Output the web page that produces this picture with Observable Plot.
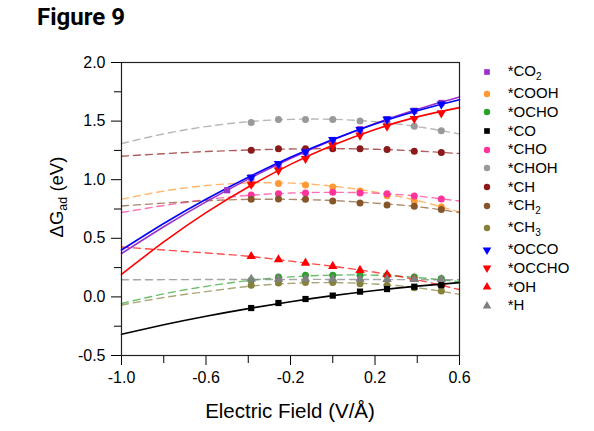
<!DOCTYPE html>
<html>
<head>
<meta charset="utf-8">
<script src="https://cdn.jsdelivr.net/npm/d3@7"></script>
<script src="https://cdn.jsdelivr.net/npm/@observablehq/plot@0.6"></script>
<style>
  body { margin: 0; width: 594px; height: 431px; position: relative; background: #fff; overflow: hidden; }
  #title { position: absolute; left: 37px; top: 3px; font: bold 24px Roboto, "Liberation Sans", sans-serif; color: #000; }
  #chart { position: absolute; left: 0; top: 36px; }
  #legend { position: absolute; left: 480px; top: 62.3px; font: 15px "Liberation Sans", Arial, sans-serif; color: #000; }
  .row { display: flex; align-items: center; height: 18.7px; }
  .row.sub { margin-bottom: 3.3px; }
  .row span { margin-left: 13.7px; white-space: nowrap; line-height: 18.7px; }
  .row sub { font-size: 10px; vertical-align: -4px; line-height: 0; }
</style>
</head>
<body>
<div id="title">Figure 9</div>
<div id="chart"></div>
<div id="legend"></div>
<script>
// field values of the computed points (V/Å)
const field = [-0.386, -0.257, -0.129, 0, 0.129, 0.257, 0.386, 0.514]
const co2Field = [-0.5, -0.386, -0.257, -0.129, 0, 0.129, 0.257, 0.386, 0.514]
const fitField = [-1.0, -0.8, -0.6, -0.4, -0.2, 0.0, 0.2, 0.4, 0.6]

// ΔGad (eV), points
const CO2 = [0.91, 1.018, 1.120, 1.235, 1.339, 1.431, 1.516, 1.588, 1.655]
const COOH = [0.961, 0.967, 0.955, 0.938, 0.904, 0.864, 0.818, 0.767]
const OCHO = [0.142, 0.170, 0.184, 0.184, 0.184, 0.184, 0.170, 0.156]
const CO = [-0.095, -0.052, -0.018, 0.011, 0.045, 0.067, 0.087, 0.100]
const CHO = [0.869, 0.881, 0.887, 0.892, 0.887, 0.881, 0.861, 0.835]
const CHOH = [1.487, 1.513, 1.513, 1.513, 1.501, 1.484, 1.456, 1.418]
const CH = [1.251, 1.265, 1.265, 1.265, 1.265, 1.257, 1.243, 1.232]
const CH2 = [0.833, 0.835, 0.833, 0.818, 0.801, 0.784, 0.773, 0.745]
const CH3 = [0.099, 0.119, 0.122, 0.122, 0.113, 0.099, 0.079, 0.050]
const OCCO = [1.018, 1.137, 1.236, 1.342, 1.427, 1.515, 1.586, 1.643]
const OCCHO = [0.961, 1.080, 1.180, 1.294, 1.379, 1.456, 1.521, 1.569]
const OH = [0.346, 0.318, 0.289, 0.261, 0.227, 0.190, 0.155, 0.113]
const H = [0.152, 0.153, 0.153, 0.152, 0.152, 0.151, 0.151, 0.150]

// ΔGad (eV), fitted curves read at fitField
const CO2_fit = [0.37, 0.599, 0.811, 1.005, 1.181, 1.339, 1.479, 1.601, 1.706]
const COOH_fit = [0.833, 0.903, 0.950, 0.972, 0.971, 0.945, 0.895, 0.822, 0.724]
const OCHO_fit = [-0.057, 0.026, 0.090, 0.139, 0.171, 0.186, 0.185, 0.165, 0.130]
const CO_fit = [-0.319, -0.238, -0.165, -0.100, -0.041, 0.011, 0.055, 0.092, 0.122]
const CHO_fit = [0.720, 0.780, 0.830, 0.866, 0.886, 0.892, 0.885, 0.860, 0.818]
const CHOH_fit = [1.308, 1.391, 1.453, 1.495, 1.515, 1.515, 1.495, 1.453, 1.390]
const CH_fit = [1.200, 1.222, 1.240, 1.253, 1.262, 1.265, 1.260, 1.245, 1.223]
const CH2_fit = [0.776, 0.800, 0.820, 0.832, 0.832, 0.822, 0.800, 0.770, 0.720]
const CH3_fit = [-0.070, -0.005, 0.045, 0.090, 0.115, 0.122, 0.110, 0.078, 0.022]
const OCCO_fit = [0.400, 0.626, 0.833, 1.021, 1.191, 1.342, 1.475, 1.589, 1.683]
const OCCHO_fit = [0.193, 0.469, 0.719, 0.938, 1.131, 1.294, 1.429, 1.536, 1.615]
const OH_fit = [0.426, 0.400, 0.375, 0.347, 0.305, 0.261, 0.210, 0.145, 0.062]
const H_fit = [0.146, 0.147, 0.148, 0.148, 0.149, 0.149, 0.148, 0.147, 0.146]

// tick labels
const xMajor = [-1.0, -0.6, -0.2, 0.2, 0.6]
const xMinor = [-0.8, -0.4, 0.0, 0.4]
const yMajor = [-0.5, 0.0, 0.5, 1.0, 1.5, 2.0]
const yMinor = [-0.25, 0.25, 0.75, 1.25, 1.75]

// downward triangle, same area rule as d3.symbolTriangle
const triDown = {
  draw(ctx, size) {
    const y = -Math.sqrt(size / (Math.sqrt(3) * 3))
    ctx.moveTo(0, -y * 2)
    ctx.lineTo(-Math.sqrt(3) * y, y)
    ctx.lineTo(Math.sqrt(3) * y, y)
    ctx.closePath()
  }
}

// name, sub, pts, xs, fit, colour, symbol, dashed
const species = [
  {name: "*CO", sub: "2", pts: CO2, xs: co2Field, fit: CO2_fit, color: "#9932CC", symbol: "square", dashed: false},
  {name: "*COOH", pts: COOH, fit: COOH_fit, color: "#FF9933", symbol: "circle", dashed: true},
  {name: "*OCHO", pts: OCHO, fit: OCHO_fit, color: "#2CA02C", symbol: "circle", dashed: true},
  {name: "*CO", pts: CO, fit: CO_fit, color: "#000000", symbol: "square", dashed: false},
  {name: "*CHO", pts: CHO, fit: CHO_fit, color: "#FF3399", symbol: "circle", dashed: true},
  {name: "*CHOH", pts: CHOH, fit: CHOH_fit, color: "#999999", symbol: "circle", dashed: true},
  {name: "*CH", pts: CH, fit: CH_fit, color: "#8B1A1A", symbol: "circle", dashed: true},
  {name: "*CH", sub: "2", pts: CH2, fit: CH2_fit, color: "#86562A", symbol: "circle", dashed: true},
  {name: "*CH", sub: "3", pts: CH3, fit: CH3_fit, color: "#85803A", symbol: "circle", dashed: true},
  {name: "*OCCO", pts: OCCO, fit: OCCO_fit, color: "#0000FF", symbol: triDown, dashed: false},
  {name: "*OCCHO", pts: OCCHO, fit: OCCHO_fit, color: "#FF0000", symbol: triDown, dashed: false},
  {name: "*OH", pts: OH, fit: OH_fit, color: "#FF0000", symbol: "triangle", dashed: true},
  {name: "*H", pts: H, fit: H_fit, color: "#808080", symbol: "triangle", dashed: true}
]

const dashed = species.filter(s => s.dashed)
const solid = [species[3], species[0], species[10], species[9]]

function lineMark(s) {
  const rows = fitField.map((x, i) => ({x, y: s.fit[i]}))
  return Plot.line(rows, {
    x: "x", y: "y", curve: "natural", stroke: s.color,
    strokeWidth: s.dashed ? 1.4 : 1.6,
    strokeOpacity: s.dashed ? 0.7 : 1,
    strokeDasharray: s.dashed ? "7,5" : null
  })
}
function dotMark(s) {
  const xs = s.xs || field
  const rows = xs.map((x, i) => ({x, y: s.pts[i]}))
  return Plot.dot(rows, {x: "x", y: "y", r: 3.5, symbol: s.symbol, fill: s.color, stroke: "none"})
}

let chart = Plot.plot({
  width: 594,
  height: 395,
  marginTop: 26,
  marginBottom: 76,
  marginLeft: 121,
  marginRight: 135,
  style: {fontFamily: "'Liberation Sans', Arial, sans-serif", fontSize: "16px", color: "#000", background: "transparent"},
  x: {domain: [-1, 0.6]},
  y: {domain: [-0.5, 2.0]},
  marks: [
    ...dashed.map(lineMark),
    ...dashed.map(dotMark),
    ...solid.map(lineMark),
    ...solid.map(dotMark),
    Plot.axisX(xMajor, {tickSize: 10, tickPadding: 6, tickFormat: d => d.toFixed(1), label: null, fontSize: 16}),
    Plot.axisX(xMinor, {tickSize: 8, tickFormat: () => "", label: null}),
    Plot.axisY(yMajor, {tickSize: 10, tickPadding: 6, tickFormat: d => d.toFixed(1), label: null, fontSize: 16}),
    Plot.axisY(yMinor, {tickSize: 7, tickFormat: () => "", label: null}),
    Plot.frame({stroke: "#222", strokeWidth: 1.2})
  ]
})

const svg = d3.select(chart)
svg.append("text")
  .attr("x", 290).attr("y", 382)
  .attr("text-anchor", "middle")
  .style("font-size", "20.5px")
  .text("Electric Field (V/Å)")
const yl = svg.append("text")
  .attr("transform", "translate(63,161) rotate(-90)")
  .attr("text-anchor", "middle")
  .style("font-size", "18.5px")
yl.append("tspan").text("ΔG")
yl.append("tspan").attr("dy", 4).style("font-size", "12.5px").text("ad")
yl.append("tspan").attr("dy", -4).text(" (eV)")

d3.select('#chart').append(() => chart)

// legend
const legend = d3.select('#legend')
for (const s of species) {
  const row = legend.append("div").attr("class", s.sub ? "row sub" : "row")
  const m = row.append("svg").attr("width", 14).attr("height", 14)
  const sym = typeof s.symbol === "string"
    ? d3.symbol(s.symbol === "square" ? d3.symbolSquare : s.symbol === "circle" ? d3.symbolCircle : d3.symbolTriangle, Math.PI * 3.2 * 3.2)
    : d3.symbol(s.symbol, Math.PI * 3.2 * 3.2)
  m.append("path").attr("transform", "translate(7,7)").attr("d", sym()).attr("fill", s.color)
  const t = row.append("span").text(s.name)
  if (s.sub) t.append("sub").text(s.sub)
}
</script>
</body>
</html>
